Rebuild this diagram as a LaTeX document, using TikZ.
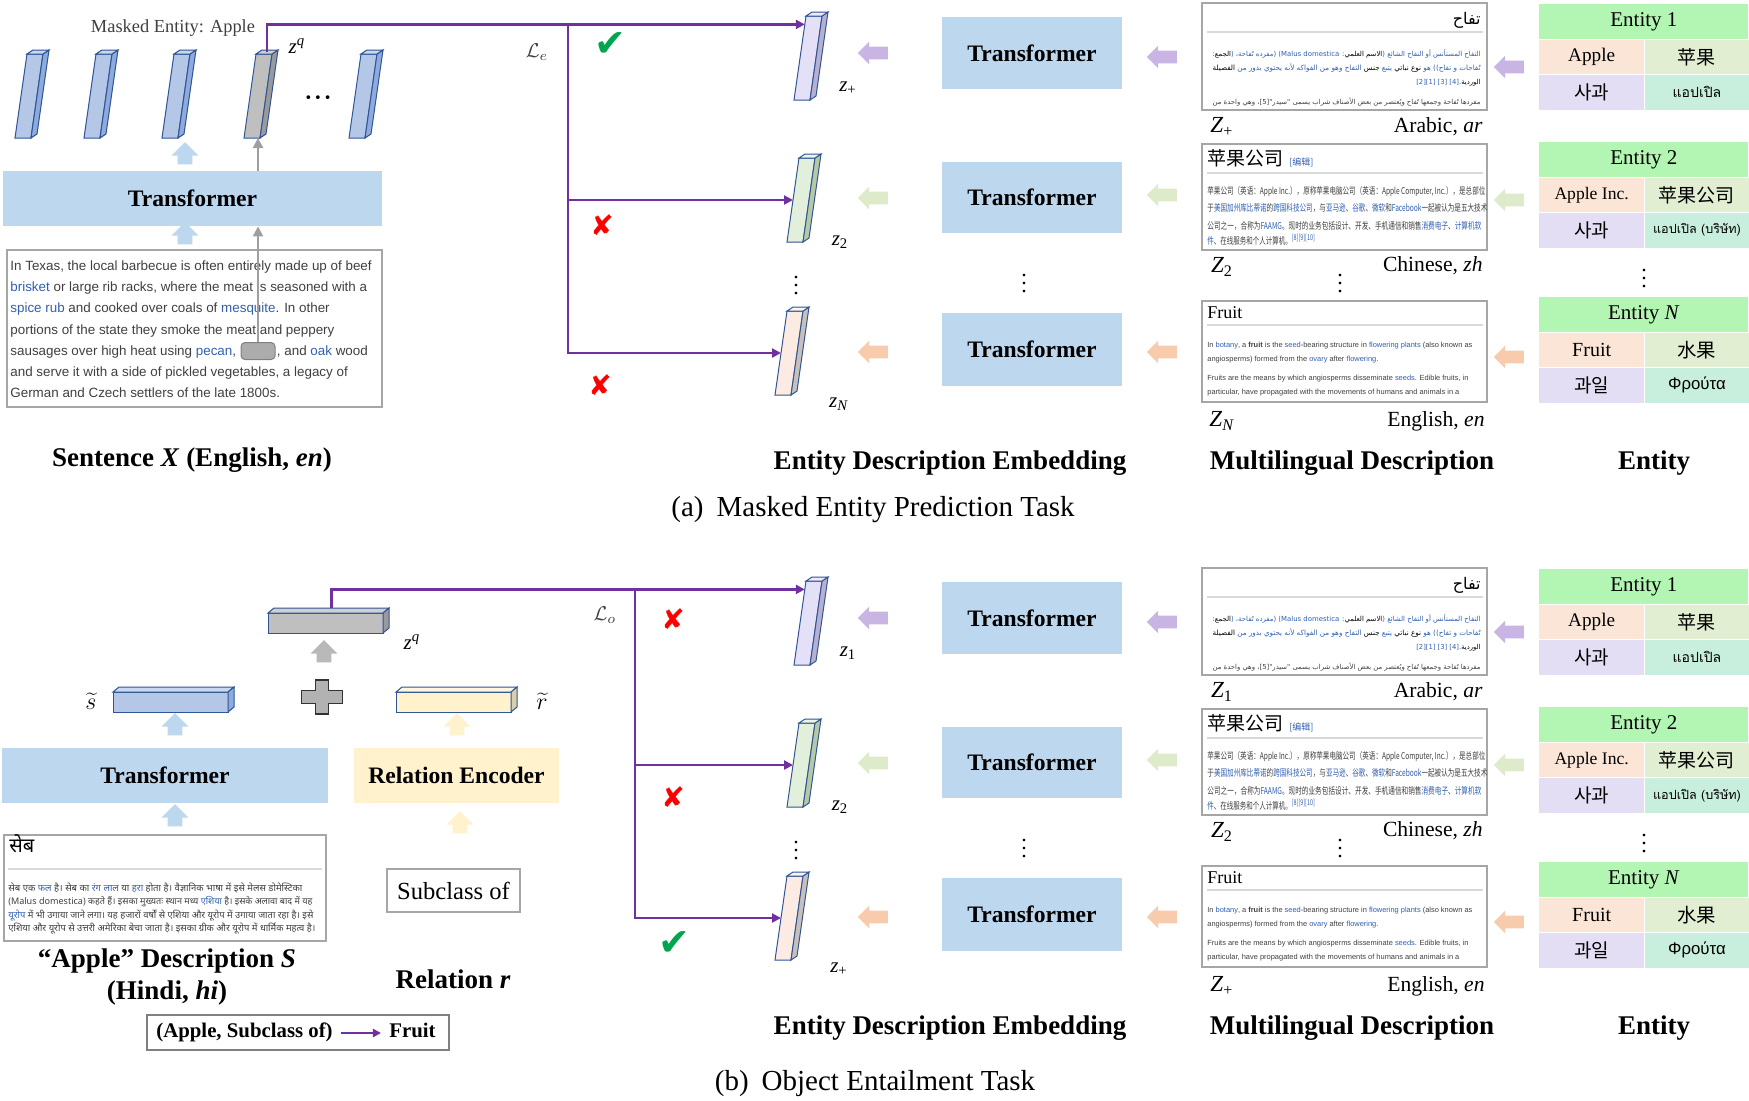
\documentclass[tikz,border=0pt]{standalone}
\usepackage{fontspec}
\usepackage{graphicx}
\setmainfont{Liberation Serif}
\setsansfont{Liberation Sans}
\newfontfamily\arabicfont[Script=Arabic]{DejaVu Sans}
\newfontfamily\hindifont[Script=Devanagari]{Noto Sans}
\newfontfamily\thaifont[Script=Thai]{Loma}
\newfontfamily\krfont{Noto Sans CJK KR}
\newfontfamily\scfont{Noto Sans CJK SC}
\newfontfamily\symfont{DejaVu Sans}
\TeXXeTstate=1
\usetikzlibrary{arrows.meta,shapes.arrows,calc}

\definecolor{tfblue}{HTML}{BDD7EE}
\definecolor{ppl}{HTML}{7030A0}
\definecolor{link}{HTML}{3060B0}
\definecolor{boxgray}{HTML}{A6A6A6}
\definecolor{txtgray}{HTML}{404040}
\definecolor{bedgec}{HTML}{2F5597}
\definecolor{barB}{HTML}{B4C7E7}\definecolor{barBs}{HTML}{8FAADC}\definecolor{barBt}{HTML}{C9D7EF}
\definecolor{barP}{HTML}{E4E0F7}\definecolor{barPs}{HTML}{B7B0D0}\definecolor{barPt}{HTML}{EEEAFA}
\definecolor{barG}{HTML}{E2EFDA}\definecolor{barGs}{HTML}{B5C9A6}\definecolor{barGt}{HTML}{EBF4E5}
\definecolor{barO}{HTML}{FBEBE2}\definecolor{barOs}{HTML}{C8C0BA}\definecolor{barOt}{HTML}{FDF3EE}
\definecolor{qg}{HTML}{BFBFBF}\definecolor{qgs}{HTML}{9A9A9A}\definecolor{qgt}{HTML}{D0D0D0}
\definecolor{relyel}{HTML}{FFF2CC}\definecolor{relyels}{HTML}{D9CFA9}\definecolor{relyelt}{HTML}{FFF7DF}
\definecolor{arrP}{HTML}{C9B5E3}
\definecolor{arrG}{HTML}{DDEBCB}
\definecolor{arrO}{HTML}{F8CBAD}
\definecolor{entH}{HTML}{B3F5B3}
\definecolor{entA}{HTML}{FBE5D6}
\definecolor{entB}{HTML}{E2EED2}
\definecolor{entC}{HTML}{E4DEF4}
\definecolor{entD}{HTML}{C8EEDE}
\definecolor{chkgreen}{HTML}{00A550}

\newcommand\fsz[1]{\fontsize{#1}{#1}\selectfont}
\newcommand\link[1]{\textcolor{link}{#1}}

\tikzset{
  tf/.style={fill=tfblue, inner sep=0, minimum width=90pt, font=\fsz{11.8}\bfseries},
  dbox/.style={draw=boxgray, line width=0.6pt, fill=white, inner sep=0, minimum width=142.5pt},
  sepl/.style={draw=gray!30, line width=0.8pt},
  lbl/.style={inner sep=0, font=\fsz{13.5}\bfseries},
  captxt/.style={inner sep=0, font=\fsz{14.5}},
  zl/.style={inner sep=0, font=\fsz{10.5}},
  Zl/.style={inner sep=0, font=\fsz{11.5}},
  lang/.style={inner sep=0, anchor=east, font=\fsz{10.8}},
  vd/.style={inner sep=0, font=\fsz{11}},
  bedge/.style={draw=bedgec, line width=0.5pt},
  pline/.style={draw=ppl, line width=1.4pt},
  parrow/.style={pline, -{Triangle[length=4.5pt,width=4.5pt]}},
  garrow/.style={draw=gray!75, line width=1.1pt, -{Triangle[length=5pt,width=5pt]}},
  larr/.style={single arrow, shape border rotate=180, draw=none, minimum height=15pt,
    minimum width=0pt, inner sep=3pt, single arrow head extend=2.5pt,
    single arrow head indent=0pt, fill=#1},
  uarr/.style={single arrow, shape border rotate=90, draw=none, minimum height=9pt,
    minimum width=0pt, inner sep=3.5pt, single arrow head extend=3pt,
    single arrow head indent=0pt, fill=#1},
  txt/.style={inner sep=0, anchor=mid west, text=txtgray, font=\sffamily\fsz{6.7}},
  small/.style={inner sep=0, text=txtgray},
  ehead/.style={fill=entH, inner sep=0, anchor=north west, minimum width=104.5pt,
    minimum height=17.25pt, font=\fsz{10.5}},
  ecell/.style={inner sep=0, anchor=north west, minimum width=52.25pt, minimum height=17.25pt},
  chk/.style={inner sep=0, text=chkgreen, font=\symfont\fsz{19}},
  xm/.style={inner sep=0, text=red, font=\symfont\fsz{14}},
}

\newcommand\mkvbar[6]{%
  \draw[bedge, fill=#4] (#2,#3) -- ({#2+16},#3) -- ({#2+28},{#3-84}) -- ({#2+12},{#3-84}) -- cycle;
  \draw[bedge, fill=#5] ({#2+16},#3) -- ({#2+22},{#3-4}) -- ({#2+34},{#3-88}) -- ({#2+28},{#3-84}) -- cycle;
  \draw[bedge, fill=#6] ({#2+12},{#3-84}) -- ({#2+28},{#3-84}) -- ({#2+34},{#3-88}) -- ({#2+18},{#3-88}) -- cycle;
  \coordinate (#1-bl) at (#2,#3);
  \coordinate (#1-tl) at ({#2+12},{#3-84});
  \coordinate (#1-t) at ({#2+23},{#3-86});
}
\newcommand\mkflat[6]{%
  \draw[bedge, fill=#4] (#2,#3) rectangle ({#2+115},{#3+20});
  \draw[bedge, fill=#6] (#2,#3) -- ({#2+6},{#3-5}) -- ({#2+121},{#3-5}) -- ({#2+115},#3) -- cycle;
  \draw[bedge, fill=#5] ({#2+115},#3) -- ({#2+121},{#3-5}) -- ({#2+121},{#3+15}) -- ({#2+115},{#3+20}) -- cycle;
  \coordinate (#1-tc) at ({#2+63.5},{#3-5});
}
\newcommand\mkent[7]{%
  \node[ehead] (#1h) at (1539,#2) {#3};
  \node[ecell, fill=entA] (#1a) at (#1h.south west) {#4};
  \node[ecell, fill=entB] (#1b) at (#1a.north east) {#5};
  \node[ecell, fill=entC] (#1c) at (#1a.south west) {#6};
  \node[ecell, fill=entD] (#1d) at (#1c.north east) {#7};
}
\newcommand\mkright[5]{%
  \mkvbar{#1z1}{794}{100}{barP}{barPs}{barPt}
  \mkvbar{#1z2}{787}{242}{barG}{barGs}{barGt}
  \mkvbar{#1z3}{775}{395}{barO}{barOs}{barOt}
  \coordinate (#1h1) at ($(#1z1-bl)!0.9!(#1z1-tl)$);
  \coordinate (#1h2) at ($(#1z2-bl)!0.5!(#1z2-tl)$);
  \coordinate (#1h3) at ($(#1z3-bl)!0.5!(#1z3-tl)$);
  \node[zl] (#1zl1) at (848,88) {\textit{z}\textsubscript{#2}};
  \node[zl] (#1zl2) at (840,242) {\textit{z}\textsubscript{2}};
  \node[zl] (#1zl3) at (839,404) {\textit{z}\textsubscript{#3}};
  \node[vd] (#1v1) at (796,279) {$\vdots$};
  \node[tf, minimum height=36pt] (#1t1) at (1032,53) {Transformer};
  \node[tf, minimum height=35.5pt] (#1t2) at (1032,197.5) {Transformer};
  \node[tf, minimum height=36.5pt] (#1t3) at (1032,349.5) {Transformer};
  \node[vd] (#1v2) at (1024,277) {$\vdots$};
  \node[larr=arrP] (#1a1) at (876,53) {};
  \node[larr=arrG] (#1a2) at (876,198) {};
  \node[larr=arrO] (#1a3) at (876,352) {};
  \node[larr=arrP] (#1b1) at (1165,57) {};
  \node[larr=arrG] (#1b2) at (1165,195) {};
  \node[larr=arrO] (#1b3) at (1165,352) {};
  \node[larr=arrP] (#1c1) at (1512,67) {};
  \node[larr=arrG] (#1c2) at (1512,200) {};
  \node[larr=arrO] (#1c3) at (1512,357) {};
  % descriptions
  \node[dbox, minimum height=53.5pt] (#1d1) at (1344.5,56.5) {};
  \node[dbox, minimum height=53pt] (#1d2) at (1344.5,197) {};
  \node[dbox, minimum height=50.5pt] (#1d3) at (1344.5,351.5) {};
  \draw[sepl] (1207,32) -- (1483,32);
  \draw[sepl] (1207,173) -- (1483,173);
  \draw[sepl] (1207,325) -- (1483,325);
  \node[small, anchor=mid east, text=black, font=\arabicfont\fsz{8}] (#1ar0) at (1481,20) {\beginR تفاح\endR};
  \node[small, anchor=mid east, font=\arabicfont\fsz{6}] (#1ar1) at (1481,52) {\resizebox{134pt}{!}{\beginR التفاح المستأنس أو التفاح الشائع (\link{الاسم العلمي}: \beginL Malus domestica\endL) (مفرده تُفاحة، (\link{الجمع}:\endR}};
  \node[small, anchor=mid east, font=\arabicfont\fsz{6}] (#1ar2) at (1481,66) {\resizebox{134pt}{!}{\beginR تُفاحات و تفاح)) هو \link{نوع نباتي} يتبع \link{جنس} التفاح وهو من الفواكه لأنه يحتوي بذور من \link{الفصيلة}\endR}};
  \node[small, anchor=mid east, font=\arabicfont\fsz{3.4}] (#1ar3) at (1481,80) {\beginR\link{الوردية}.\beginL\link{[1][2] [3] [4]}\endL\endR};
  \node[small, anchor=mid east, font=\arabicfont\fsz{6}] (#1ar4) at (1481,100) {\resizebox{134pt}{!}{\beginR مفردها تُفاحة وجمعها تُفاح ويُعتصر من بعض الأصناف شراب يسمى "سيدر"\beginL[5]\endL، وهي واحدة من\endR}};
  \node[Zl] (#1Z1) at (1222,127) {\textit{Z}\textsubscript{#4}};
  \node[lang] (#1g1) at (1483,127) {Arabic, \textit{ar}};
  \node[small, anchor=mid west, text=black, font=\scfont\fsz{9.5}] (#1zh0) at (1207,161) {苹果公司\hspace{3pt}{\fsz{4.5}\link{[编辑]}}};
  \node[small, anchor=mid west, font=\scfont\fsz{6}] (#1zh1) at (1207,190) {\resizebox{139pt}{4pt}{苹果公司（英语：Apple Inc.），原称苹果电脑公司（英语：Apple Computer, Inc.），是总部位}};
  \node[small, anchor=mid west, font=\scfont\fsz{6}] (#1zh2) at (1207,207) {\resizebox{140pt}{4pt}{于\link{美国加州库比蒂诺}的\link{跨国科技公司}，与\link{亚马逊}、\link{谷歌}、\link{微软}和\link{Facebook}一起被认为是五大技术}};
  \node[small, anchor=mid west, font=\scfont\fsz{6}] (#1zh3) at (1207,225) {\resizebox{137pt}{4pt}{公司之一，合称为\link{FAAMG}。现时的业务包括设计、开发、手机通信和销售\link{消费电子}、\link{计算机软}}};
  \node[small, anchor=mid west, font=\scfont\fsz{6}] (#1zh4) at (1207,240) {\resizebox{54pt}{4pt}{\link{件}、在线服务和个人计算机。\smash{\textsuperscript{\link{[8][9][10]}}}}};
  \node[Zl] (#1Z2) at (1222,267) {\textit{Z}\textsubscript{2}};
  \node[vd] (#1v3) at (1340,277) {$\vdots$};
  \node[lang] (#1g2) at (1483,266) {Chinese, \textit{zh}};
  \node[small, anchor=mid west, text=black, font=\fsz{9}] (#1en0) at (1207,314) {Fruit};
  \node[small, anchor=mid west, font=\sffamily\fsz{6}] (#1en1) at (1207,343) {\resizebox{132.5pt}{!}{In \link{botany}, a \textbf{fruit} is the \link{seed}-bearing structure in \link{flowering plants} (also known as}};
  \node[small, anchor=mid west, font=\sffamily\fsz{6}] (#1en2) at (1207,357) {\resizebox{85.5pt}{!}{angiosperms) formed from the \link{ovary} after \link{flowering}.}};
  \node[small, anchor=mid west, font=\sffamily\fsz{6}] (#1en3) at (1207,376) {\resizebox{130.5pt}{!}{Fruits are the means by which angiosperms disseminate \link{seeds}. Edible fruits, in}};
  \node[small, anchor=mid west, font=\sffamily\fsz{6}] (#1en4) at (1207,390) {\resizebox{126pt}{!}{particular, have propagated with the movements of humans and animals in a}};
  \node[Zl] (#1Z3) at (1222,421) {\textit{Z}\textsubscript{#5}};
  \node[lang] (#1g3) at (1485,421) {English, \textit{en}};
  % entities
  \mkent{#1e1}{4}{Entity 1}{\fsz{9.6}Apple}{\scfont\fsz{9.5}苹果}{\krfont\fsz{9.5}사과}{\thaifont\fsz{7}แอปเปิล}
  \mkent{#1e2}{142}{Entity 2}{\fsz{8.8}Apple Inc.}{\scfont\fsz{9.5}苹果公司}{\krfont\fsz{9.5}사과}{\thaifont\fsz{6.3}แอปเปิล (บริษัท)}
  \node[vd] (#1v4) at (1644,272) {$\vdots$};
  \mkent{#1e3}{297}{Entity \textit{N}}{\fsz{10}Fruit}{\scfont\fsz{9.7}水果}{\krfont\fsz{9.5}과일}{\sffamily\fsz{8.4}Φρούτα}
  \node[lbl] (#1L1) at (950,463) {Entity Description Embedding};
  \node[lbl] (#1L2) at (1352,463) {Multilingual Description};
  \node[lbl] (#1L3) at (1654,463) {Entity};
}

\begin{document}
\begin{tikzpicture}[x=0.5pt,y=-0.5pt]
\useasboundingbox (0,0) rectangle (1749,1100);
\fill[white] (0,0) rectangle (1749,1100);

% ================= (a) =================
\node[inner sep=0, text=txtgray, font=\fsz{9.2}] (mtitle) at (173,28) {Masked Entity: Apple};
\mkvbar{q1}{15}{138}{barB}{barBs}{barBt}
\mkvbar{q2}{84}{138}{barB}{barBs}{barBt}
\mkvbar{q3}{162}{138}{barB}{barBs}{barBt}
\mkvbar{qa}{244}{138}{qg}{qgs}{qgt}
\mkvbar{q5}{349}{138}{barB}{barBs}{barBt}
\node[inner sep=0, font=\symfont\fsz{6.5}] (qdots) at (318,99) {•\hspace{1pt}•\hspace{1pt}•};
\node[zl] (zqa) at (297,46) {\textit{z}\textsuperscript{\textit{q}}};
\node[uarr=tfblue] (ua1) at (185,157) {};
\node[tf, minimum width=189.5pt, minimum height=27.5pt] (tfa) at (192.5,198.5) {Transformer};
\node[uarr=tfblue] (ua2) at (185,237) {};
\node[dbox, minimum width=187.5pt, minimum height=78.5pt] (sent) at (194.5,328.5) {};
\node[txt] (s1) at (10,266) {In Texas, the local barbecue is often entirely made up of beef};
\node[txt] (s2) at (10,287) {\link{brisket} or large rib racks, where the meat is seasoned with a};
\node[txt] (s3) at (10,308) {\link{spice rub} and cooked over coals of \link{mesquite}. In other};
\node[txt] (s4) at (10,329.5) {portions of the state they smoke the meat and peppery};
\node[txt] (s5a) at (10,351) {sausages over high heat using \link{pecan},};
\node[fill=gray!65, draw=gray, line width=0.5pt, rounded corners=2pt, minimum width=17pt, minimum height=8.5pt, inner sep=0, anchor=west] (mask) at ([xshift=2pt]s5a.mid east) {};
\node[txt] (s5b) at ([xshift=0.5pt]mask.east |- s5a.mid) {, and \link{oak} wood};
\node[txt] (s6) at (10,372) {and serve it with a side of pickled vegetables, a legacy of};
\node[txt] (s7) at (10,393) {German and Czech settlers of the late 1800s.};
\draw[garrow] (mask.north) -- (mask.north |- tfa.south);
\draw[garrow] (mask.north |- tfa.north) -- (mask.north |- qa-bl);
\node[lbl] (lsent) at (192,460) {Sentence \textit{X} (English, \textit{en})};

\mkright{a}{+}{\textit{N}}{+}{\textit{N}}
\coordinate (vxa) at (568,0);
\draw[parrow] (qa-t) |- (ah1);
\draw[parrow] (ah1 -| vxa) |- (ah2);
\draw[parrow] (ah1 -| vxa) |- (ah3);
\node[inner sep=0, text=txtgray, font=\fsz{10}] (Le) at (537,52) {$\mathcal{L}_e$};
\node[chk] (ck1) at (610,45) {✔};
\node[xm] (x1) at (602,225) {✘};
\node[xm] (x2) at (600,385) {✘};
\node[captxt] (capa) at (873,510) {(a)\hspace{0.45em}Masked Entity Prediction Task};

% ================= (b) =================
\begin{scope}[yshift=-282.5pt]
\mkright{b}{1}{+}{1}{+}
\end{scope}
\mkflat{qb}{268}{613}{qg}{qgs}{qgt}
\node[zl] (zqb) at (412,642) {\textit{z}\textsuperscript{\textit{q}}};
\node[uarr=gray!55, minimum height=8pt] (ug) at (324,655) {};
\draw[draw=black!80, line width=0.6pt, fill=gray!60] (301.5,690.5) -- (315.5,690.5) -- (315.5,680) -- (328.5,680) -- (328.5,690.5) -- (342.5,690.5) -- (342.5,703.5) -- (328.5,703.5) -- (328.5,714) -- (315.5,714) -- (315.5,703.5) -- (301.5,703.5) -- cycle;
\coordinate (plus) at (322,697);
\mkflat{sb}{113}{692}{barB}{barBs}{barBt}
\mkflat{rb}{396}{692}{relyel}{relyels}{relyelt}
\node[inner sep=0, font=\fsz{12}] (stl) at (91,701) {$\widetilde{s}$};
\node[inner sep=0, font=\fsz{12}] (rtl) at (542,701) {$\widetilde{r}$};
\node[uarr=tfblue, minimum height=8pt] (ub1) at (175,728) {};
\node[uarr=relyel, minimum height=8pt] (uy1) at (457,728) {};
\node[tf, minimum width=163pt, minimum height=27.5pt] (tfb) at (165,775.5) {Transformer};
\node[tf, fill=relyel, minimum width=102.5pt, minimum height=27.5pt] (renc) at (456.5,775.5) {Relation Encoder};
\node[uarr=tfblue, minimum height=8pt] (ub2) at (175,819) {};
\node[uarr=relyel, minimum height=8pt] (uy2) at (460,826) {};
\node[dbox, minimum width=161pt, minimum height=53pt] (hbox) at (165,888) {};
\node[small, anchor=mid west, text=black, font=\hindifont\fsz{10}] (h0) at (9,848) {सेब};
\draw[sepl] (8,869) -- (322,869);
\node[small, anchor=mid west, font=\hindifont\fsz{6}] (h1) at (8,887) {\resizebox{147pt}{!}{\textbf{सेब} एक \link{फल} है। सेब का \link{रंग} \link{लाल} या \link{हरा} होता है। वैज्ञानिक भाषा में इसे मेलस डोमेस्टिका}};
\node[small, anchor=mid west, font=\hindifont\fsz{6}] (h2) at (8,900) {\resizebox{152pt}{!}{(Malus domestica) कहते हैं। इसका मुख्यतः स्थान मध्य \link{एशिया} है। इसके अलावा बाद में यह}};
\node[small, anchor=mid west, font=\hindifont\fsz{6}] (h3) at (8,913.5) {\resizebox{152.5pt}{!}{\link{यूरोप} में भी उगाया जाने लगा। यह हजारों वर्षों से एशिया और यूरोप में उगाया जाता रहा है। इसे}};
\node[small, anchor=mid west, font=\hindifont\fsz{6}] (h4) at (8,926.5) {\resizebox{153.5pt}{!}{एशिया और यूरोप से उत्तरी अमेरिका बेचा जाता है। इसका ग्रीक और यूरोप में धार्मिक महत्व है।}};
\node[draw=boxgray, line width=0.6pt, inner sep=0, minimum width=66.5pt, minimum height=21.5pt, font=\fsz{12.3}] (subc) at (453.5,890.5) {Subclass of};
\node[lbl] (ldesc) at (167,961) {“Apple” Description \textit{S}};
\node[lbl] (lhindi) at (167,993) {(Hindi, \textit{hi})};
\node[lbl] (lrel) at (453,979) {Relation \textit{r}};
\node[draw=gray, line width=0.6pt, inner sep=0, minimum width=151pt, minimum height=17.5pt] (trip) at (298,1032.5) {};
\node[inner sep=0, anchor=mid west, font=\fsz{10.4}\bfseries] (relL) at (156,1033) {(Apple, Subclass of)};
\node[inner sep=0, anchor=mid east, font=\fsz{10.4}\bfseries] (relR) at (436,1033) {Fruit};
\draw[pline, line width=1.1pt, -{Triangle[length=4pt,width=4pt]}, shorten <=4pt, shorten >=4pt] (relL.mid east) -- (relR.mid west);

\coordinate (vxb) at (635,0);
\draw[parrow] (qb-tc) |- (bh1);
\draw[parrow] (bh1 -| vxb) |- (bh2);
\draw[parrow] (bh1 -| vxb) |- (bh3);
\node[inner sep=0, text=txtgray, font=\fsz{10}] (Lo) at (605,615) {$\mathcal{L}_o$};
\node[xm] (x3) at (673,619) {✘};
\node[xm] (x4) at (673,797) {✘};
\node[chk] (ck2) at (674,943) {✔};
\node[captxt] (capb) at (875,1083) {(b)\hspace{0.45em}Object Entailment Task};
\end{tikzpicture}
\end{document}
